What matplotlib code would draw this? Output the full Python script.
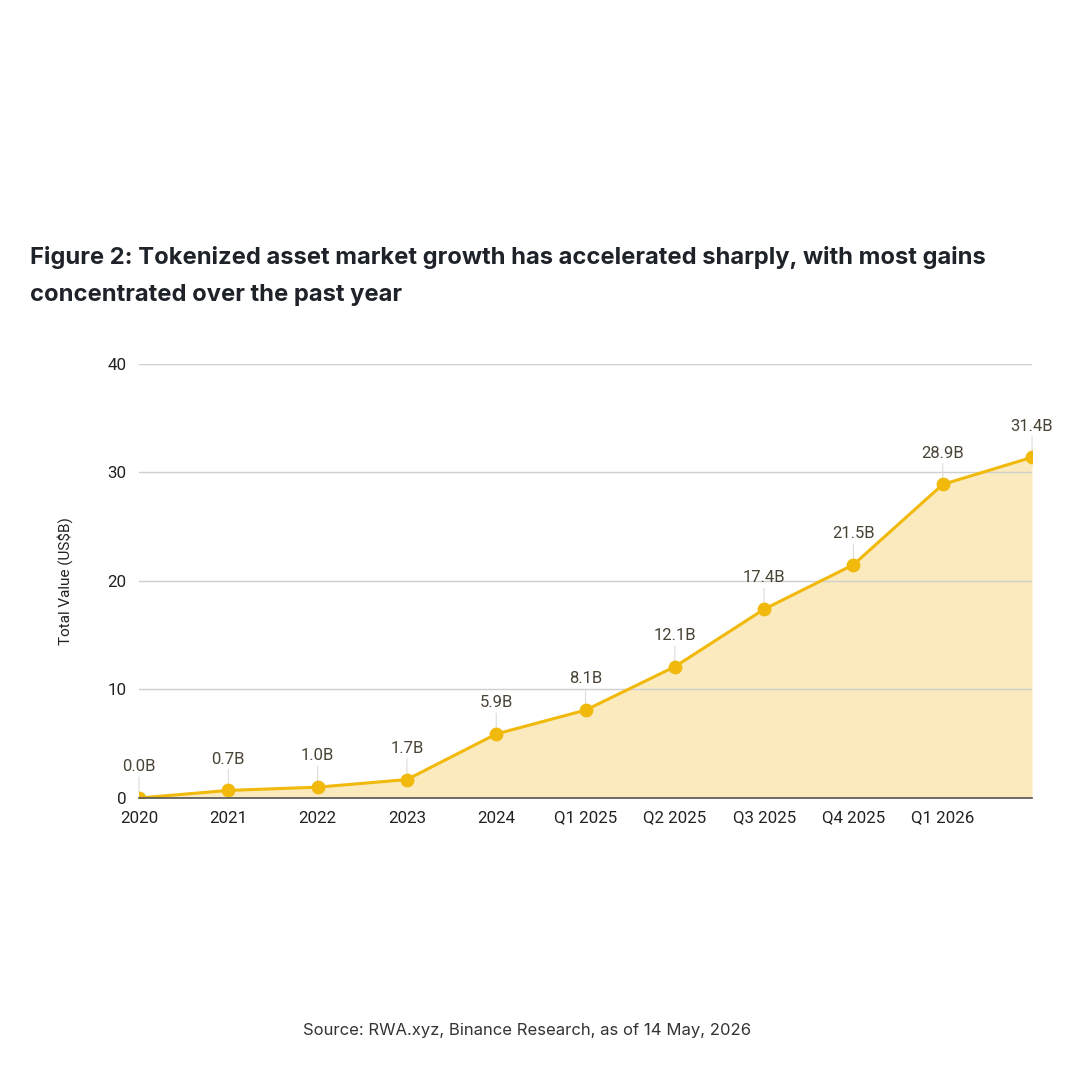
import matplotlib
matplotlib.use("Agg")
import matplotlib.pyplot as plt

# data
periods = ["2020", "2021", "2022", "2023", "2024", "Q1 2025", "Q2 2025",
           "Q3 2025", "Q4 2025", "Q1 2026", "Q2 2026"]
values = [0.0, 0.7, 1.0, 1.7, 5.9, 8.1, 12.1, 17.4, 21.5, 28.9, 31.4]
tick_labels = periods[:-1]  # last period is not labelled on the axis
y_ticks = [0, 10, 20, 30, 40]

line_color = "#F0B90B"
fill_color = "#FBE7B2"

plt.rcParams["font.family"] = ["Roboto", "DejaVu Sans"]

fig = plt.figure(figsize=(10.8, 10.8), dpi=100)
ax = fig.add_axes([0.1287, 0.2611, 0.8269, 0.4019])

x = list(range(len(values)))
ax.fill_between(x, values, 0, color=fill_color, alpha=0.85, zorder=2, linewidth=0)
ax.plot(x, values, color=line_color, linewidth=2.2, zorder=4)
ax.scatter(x, values, s=80, color=line_color, zorder=5, clip_on=True)

# value labels with thin leader lines
for xi, v in zip(x, values):
    ax.annotate(f"{v:.1f}B", xy=(xi, v), xytext=(0, 22.5), textcoords="offset points",
                ha="center", va="center", fontsize=12, color="#4a4436", zorder=6,
                annotation_clip=False)
    ax.annotate("", xy=(xi, v), xytext=(0, 15), textcoords="offset points",
                arrowprops=dict(arrowstyle="-", color="#dcdcdc", lw=0.8,
                                shrinkA=0, shrinkB=4), zorder=3, annotation_clip=False)

ax.set_xlim(0, len(values) - 1)
ax.set_ylim(0, 40)
ax.set_xticks(range(len(tick_labels)))
ax.set_xticklabels(tick_labels)
ax.set_yticks(y_ticks)
ax.tick_params(axis="both", length=0, labelsize=12.2, colors="#222222")
ax.tick_params(axis="x", pad=9)
ax.tick_params(axis="y", pad=9)

ax.grid(axis="y", color="#cfcfcf", linewidth=1, zorder=3)
ax.set_axisbelow(False)
for side in ["top", "right", "left"]:
    ax.spines[side].set_visible(False)
ax.spines["bottom"].set_color("#555555")
ax.spines["bottom"].set_linewidth(1.2)
ax.spines["bottom"].set_zorder(6)

ax.set_ylabel("Total Value (US$B)", fontsize=11, color="#222222", labelpad=25)

fig.text(0.028, 0.762, "Figure 2: Tokenized asset market growth has accelerated sharply, with most gains",
         fontsize=17.1, fontweight="bold", color="#1e2329", family=["Inter", "DejaVu Sans"],
         va="center")
fig.text(0.028, 0.727, "concentrated over the past year",
         fontsize=17.1, fontweight="bold", color="#1e2329", family=["Inter", "DejaVu Sans"],
         va="center")
fig.text(0.488, 0.046, "Source: RWA.xyz, Binance Research, as of 14 May, 2026",
         fontsize=12, color="#333333", ha="center", va="center",
         family=["Inter", "DejaVu Sans"])

fig.savefig("out.png", dpi=100)
